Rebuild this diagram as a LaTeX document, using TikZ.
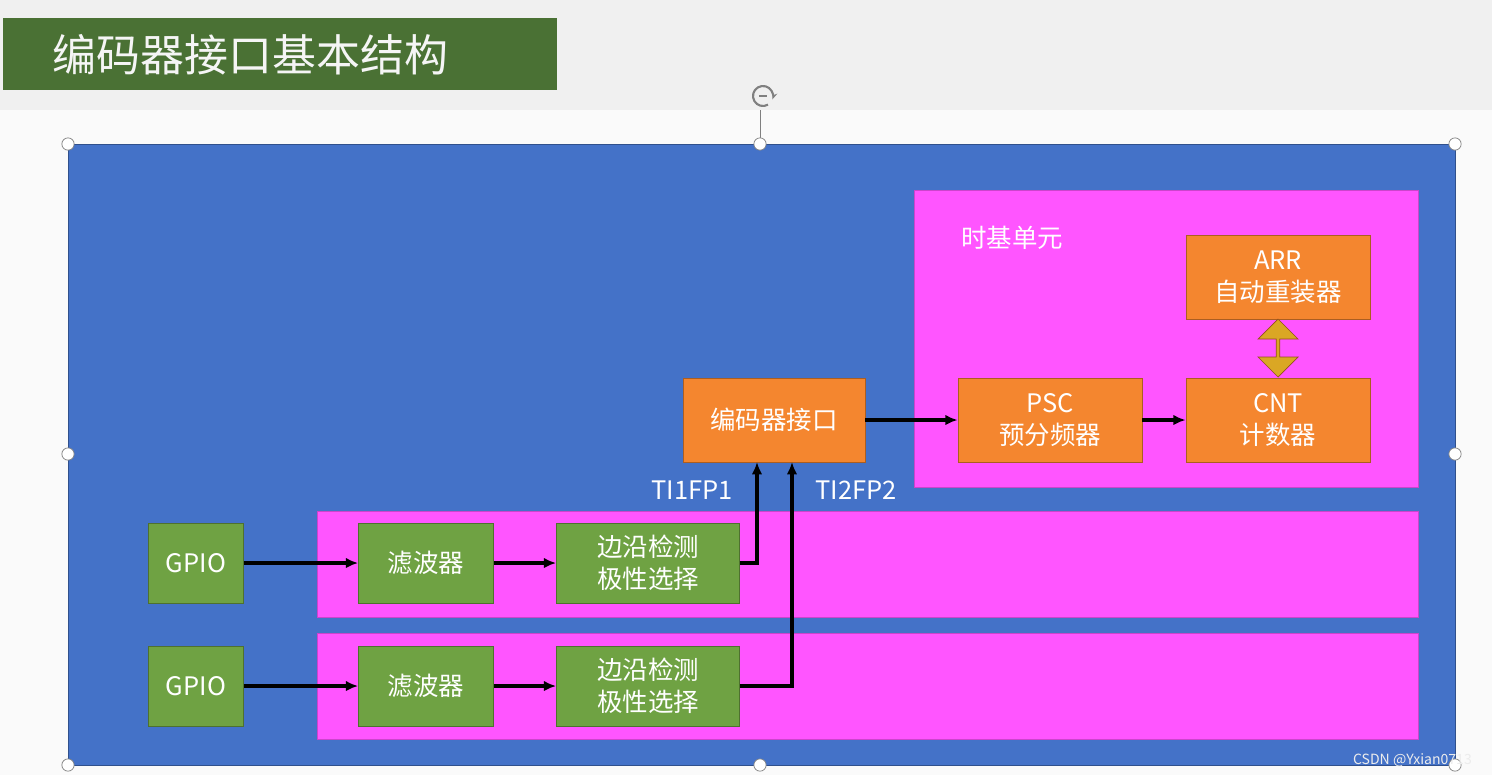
\documentclass[tikz,border=0pt]{standalone}
\usepackage{fontspec}
\setmainfont{Noto Sans CJK SC}
\usetikzlibrary{arrows.meta,shapes.arrows}
\definecolor{bl}{HTML}{4472C8}
\definecolor{mg}{HTML}{FF55FF}
\definecolor{og}{HTML}{F4862F}
\definecolor{gr}{HTML}{6FA243}
\definecolor{tg}{HTML}{4A7134}
\tikzset{
 ob/.style={draw=og!70!black,fill=og,text=white,font=\fontsize{14.5}{18}\selectfont,align=center,inner sep=0},
 gb/.style={draw=gr!70!black,fill=gr,text=white,font=\fontsize{14.5}{18}\selectfont,align=center,inner sep=0},
 mb/.style={draw=mg!80!black,fill=mg},
 ar/.style={-{Latex[length=7pt,width=6pt]},line width=1.8pt,black},
 hd/.style={circle,draw=gray,fill=white,inner sep=0,minimum size=7pt}
}
\begin{document}
\begin{tikzpicture}[x=0.02cm,y=-0.02cm]
\useasboundingbox (0,0) rectangle (1492,775);
\fill[gray!12] (0,0) rectangle (1492,775);
\fill[white!96!gray] (0,110) rectangle (1492,775);
\node[fill=tg,minimum width=554*0.02cm,minimum height=72*0.02cm,anchor=north west,text=white!92!gray,font=\fontsize{25}{30}\selectfont,inner sep=0] (title) at (3,18) {\hspace*{-1.2cm}编码器接口基本结构};
\draw[gray] (760,144) -- (760,110);
\coordinate (rot) at (763,96);
\draw[gray,line width=1.2pt,-{Stealth[length=4pt]}] ([shift={(60:10)}]rot) arc[start angle=60,end angle=380,radius=10];
\draw[gray,line width=1pt] ([shift={(-4,0)}]rot) -- ([shift={(4,0)}]rot);
\fill[bl] (68,144) rectangle (1455,765);
\draw[bl!70!black] (68,144) rectangle (1455,765);
\foreach \p/\n in {{(68,144)}/h1,{(760,144)}/h2,{(1455,144)}/h3,{(68,454)}/h4,{(1455,454)}/h5,{(68,765)}/h6,{(760,765)}/h7,{(1455,765)}/h8}
  \node[hd] (\n) at \p {};
\draw[mb] (914,190) rectangle (1418,487);
\draw[mb] (317,511) rectangle (1418,617);
\draw[mb] (317,633) rectangle (1418,739);
\node[text=white,font=\fontsize{14.5}{18}\selectfont] (tb) at (1012,238) {时基单元};
\node[ob,minimum width=184*0.02cm,minimum height=84*0.02cm] (arr) at (1278,277) {ARR\\自动重装器};
\node[ob,minimum width=184*0.02cm,minimum height=84*0.02cm] (psc) at (1050,420) {PSC\\预分频器};
\node[ob,minimum width=184*0.02cm,minimum height=84*0.02cm] (cnt) at (1278,420) {CNT\\计数器};
\node[ob,minimum width=182*0.02cm,minimum height=84*0.02cm] (enc) at (774,420) {编码器接口};
\foreach \r/\y in {1/563,2/686}{
 \node[gb,minimum width=95*0.02cm,minimum height=80*0.02cm] (g\r) at (196,\y) {GPIO};
 \node[gb,minimum width=135*0.02cm,minimum height=80*0.02cm] (f\r) at (426,\y) {滤波器};
 \node[gb,minimum width=183*0.02cm,minimum height=80*0.02cm] (e\r) at (648,\y) {边沿检测\\极性选择};
 \draw[ar] (g\r) -- (f\r);
 \draw[ar] (f\r) -- (e\r);
}
\draw[ar] (e1.east) -| (757,462);
\draw[ar] (e2.east) -| (792,462);
\draw[ar] (enc) -- (psc);
\draw[ar] (psc) -- (cnt);
\node[double arrow,shape border rotate=90,draw=og!60!black,fill=yellow!45!orange!85!black,minimum height=58*0.02cm,minimum width=40*0.02cm,double arrow head extend=2pt,inner sep=0] (da) at (1278,348) {};
\node[text=white,font=\fontsize{14.5}{18}\selectfont] (t1) at (692,490) {TI1FP1};
\node[text=white,font=\fontsize{14.5}{18}\selectfont] (t2) at (856,490) {TI2FP2};
\node[text=white!85!gray,font=\fontsize{8}{10}\selectfont,anchor=east] (wm) at (1478,760) {CSDN @Yxian0713};
\end{tikzpicture}
\end{document}
